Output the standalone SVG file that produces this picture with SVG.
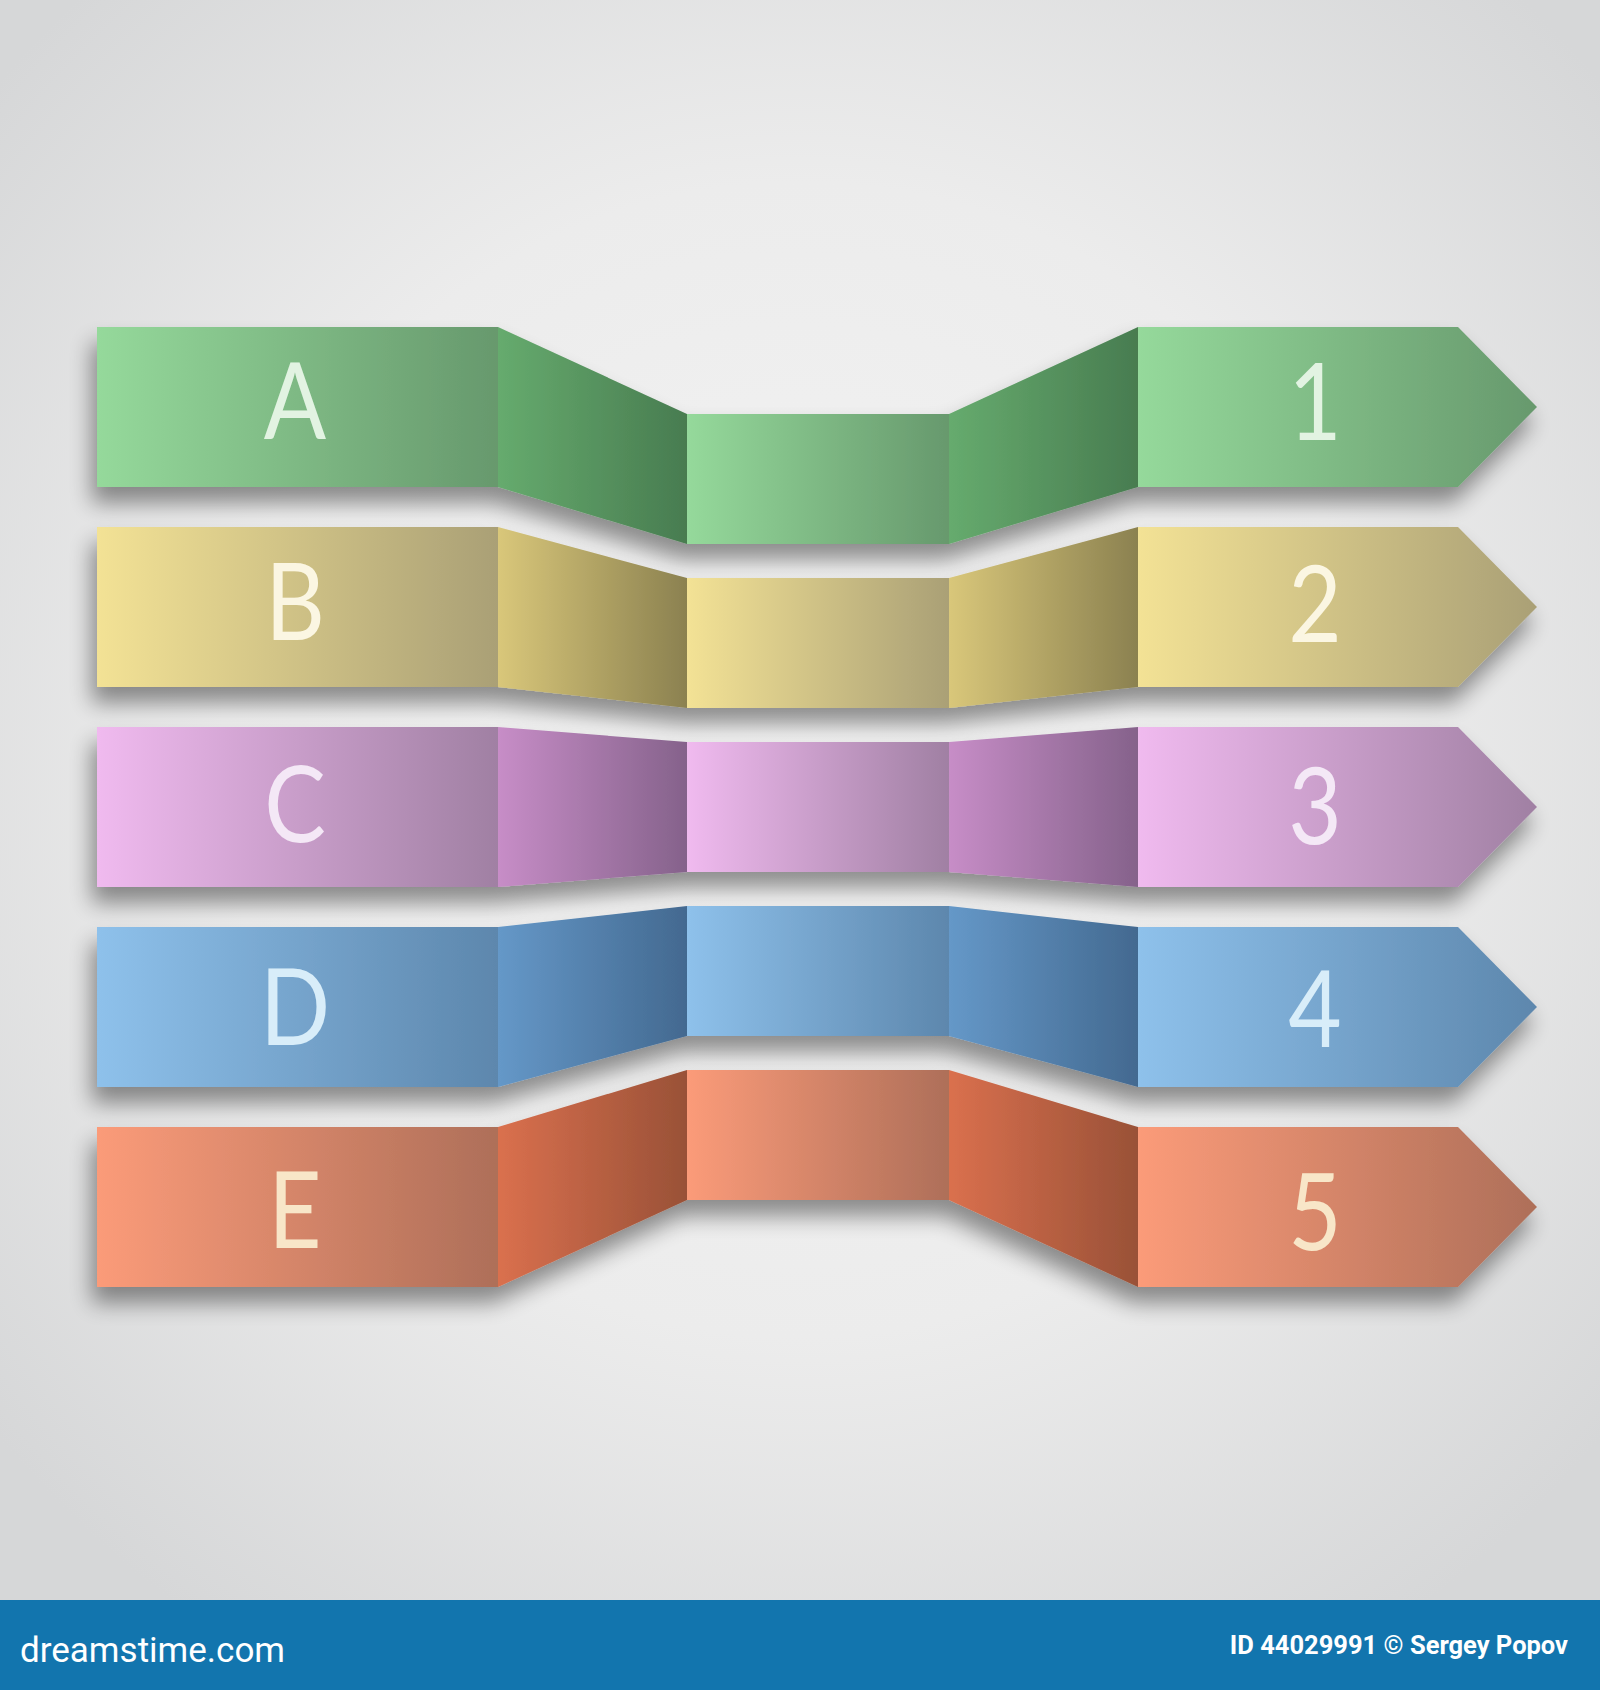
<svg xmlns="http://www.w3.org/2000/svg" width="1600" height="1690" viewBox="0 0 1600 1690">
<defs>
<radialGradient id="bg" cx="800" cy="760" r="1050" gradientUnits="userSpaceOnUse">
<stop offset="0" stop-color="#f4f4f4"/><stop offset="0.55" stop-color="#ececec"/><stop offset="1" stop-color="#d6d7d8"/>
</radialGradient>
<filter id="sh" x="-10%" y="-20%" width="125%" height="170%">
<feGaussianBlur in="SourceAlpha" stdDeviation="11"/>
<feOffset dx="-5" dy="16" result="b"/>
<feComponentTransfer><feFuncA type="linear" slope="0.42"/></feComponentTransfer>
<feMerge><feMergeNode/><feMergeNode in="SourceGraphic"/></feMerge>
</filter>
<linearGradient id="gP" x1="0" x2="1"><stop offset="0" stop-color="#95d99b"/><stop offset="1" stop-color="#67996d"/></linearGradient>
<linearGradient id="gF" x1="0" x2="1"><stop offset="0" stop-color="#66ab6e"/><stop offset="1" stop-color="#487c50"/></linearGradient>
<linearGradient id="yP" x1="0" x2="1"><stop offset="0" stop-color="#f3e295"/><stop offset="1" stop-color="#aaa076"/></linearGradient>
<linearGradient id="yF" x1="0" x2="1"><stop offset="0" stop-color="#d9c77a"/><stop offset="1" stop-color="#8b8150"/></linearGradient>
<linearGradient id="pP" x1="0" x2="1"><stop offset="0" stop-color="#f0baef"/><stop offset="1" stop-color="#a080a3"/></linearGradient>
<linearGradient id="pF" x1="0" x2="1"><stop offset="0" stop-color="#c78dc7"/><stop offset="1" stop-color="#85628b"/></linearGradient>
<linearGradient id="bP" x1="0" x2="1"><stop offset="0" stop-color="#8ec1eb"/><stop offset="1" stop-color="#5d87ad"/></linearGradient>
<linearGradient id="bF" x1="0" x2="1"><stop offset="0" stop-color="#6598c8"/><stop offset="1" stop-color="#436990"/></linearGradient>
<linearGradient id="oP" x1="0" x2="1"><stop offset="0" stop-color="#fb9b79"/><stop offset="1" stop-color="#ae6f59"/></linearGradient>
<linearGradient id="oF" x1="0" x2="1"><stop offset="0" stop-color="#da704e"/><stop offset="1" stop-color="#995137"/></linearGradient>
</defs>
<style>
.lbl{font-family:Lato,"Open Sans","Liberation Sans",sans-serif;font-size:106px;font-weight:400;text-anchor:middle}
.foot{font-family:Roboto,"Liberation Sans",sans-serif;fill:#ffffff}
</style>
<rect x="0" y="0" width="1600" height="1600" fill="url(#bg)"/>

<g id="row-A" filter="url(#sh)">
<rect x="97" y="327" width="401" height="160" fill="url(#gP)"/>
<polygon points="498,327 687,414 687,544 498,487" fill="url(#gF)"/>
<rect x="687" y="414" width="262" height="130" fill="url(#gP)"/>
<polygon points="949,414 1138,327 1138,487 949,544" fill="url(#gF)"/>
<polygon points="1138,327 1458,327 1537,407 1458,487 1138,487" fill="url(#gP)"/>
<text class="lbl" transform="translate(295,439) scale(0.87,1)" fill="#e2f3e2">A</text>
<text class="lbl" transform="translate(1315,440) scale(0.87,1)" fill="#e2f3e2">1</text>
</g>

<g id="row-B" filter="url(#sh)">
<rect x="97" y="527" width="401" height="160" fill="url(#yP)"/>
<polygon points="498,527 687,578 687,708 498,687" fill="url(#yF)"/>
<rect x="687" y="578" width="262" height="130" fill="url(#yP)"/>
<polygon points="949,578 1138,527 1138,687 949,708" fill="url(#yF)"/>
<polygon points="1138,527 1458,527 1537,607 1458,687 1138,687" fill="url(#yP)"/>
<text class="lbl" transform="translate(295,640) scale(0.87,1)" fill="#fbf6e2">B</text>
<text class="lbl" transform="translate(1315,642) scale(0.87,1)" fill="#fbf6e2">2</text>
</g>

<g id="row-C" filter="url(#sh)">
<rect x="97" y="727" width="401" height="160" fill="url(#pP)"/>
<polygon points="498,727 687,742 687,872 498,887" fill="url(#pF)"/>
<rect x="687" y="742" width="262" height="130" fill="url(#pP)"/>
<polygon points="949,742 1138,727 1138,887 949,872" fill="url(#pF)"/>
<polygon points="1138,727 1458,727 1537,807 1458,887 1138,887" fill="url(#pP)"/>
<text class="lbl" transform="translate(295,842) scale(0.87,1)" fill="#f4e8f6">C</text>
<text class="lbl" transform="translate(1315,844) scale(0.87,1)" fill="#f4e8f6">3</text>
</g>

<g id="row-D" filter="url(#sh)">
<rect x="97" y="927" width="401" height="160" fill="url(#bP)"/>
<polygon points="498,927 687,906 687,1036 498,1087" fill="url(#bF)"/>
<rect x="687" y="906" width="262" height="130" fill="url(#bP)"/>
<polygon points="949,906 1138,927 1138,1087 949,1036" fill="url(#bF)"/>
<polygon points="1138,927 1458,927 1537,1007 1458,1087 1138,1087" fill="url(#bP)"/>
<text class="lbl" transform="translate(295,1045) scale(0.87,1)" fill="#d8edf9">D</text>
<text class="lbl" transform="translate(1315,1047) scale(0.87,1)" fill="#d8edf9">4</text>
</g>

<g id="row-E" filter="url(#sh)">
<rect x="97" y="1127" width="401" height="160" fill="url(#oP)"/>
<polygon points="498,1127 687,1070 687,1200 498,1287" fill="url(#oF)"/>
<rect x="687" y="1070" width="262" height="130" fill="url(#oP)"/>
<polygon points="949,1070 1138,1127 1138,1287 949,1200" fill="url(#oF)"/>
<polygon points="1138,1127 1458,1127 1537,1207 1458,1287 1138,1287" fill="url(#oP)"/>
<text class="lbl" transform="translate(295,1248) scale(0.87,1)" fill="#f8e6c8">E</text>
<text class="lbl" transform="translate(1315,1250) scale(0.87,1)" fill="#f8e6c8">5</text>
</g>

<g id="footer">
<rect x="0" y="1600" width="1600" height="90" fill="#1275ae"/>
<text class="foot" x="20" y="1662" font-size="35">dreamstime.com</text>
<text class="foot" x="1568" y="1654" font-size="25.5" font-weight="700" text-anchor="end">ID 44029991 © Sergey Popov</text>
</g>
</svg>
